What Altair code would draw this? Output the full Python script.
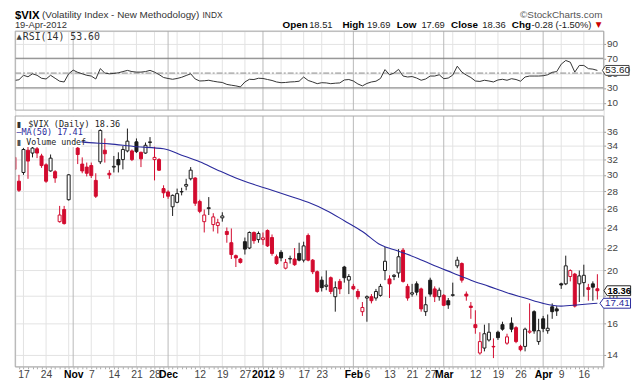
import altair as alt
import numpy as np
import pandas as pd

# ---------------- data ----------------
# sessions from 13-Oct-2011 to 19-Apr-2012; session index 0 = 1-Nov-2011
FIRST_DAY = -13

opens = [32.3, 29.2, 30.3, 33.3, 32.9, 33.5, 32.5, 31.3, 30.5, 30.4, 24.6, 25.9, 27.0,
         34.0, 33.6, 31.4, 31.0, 31.2, 29.3, 31.7, 33.3, 30.2, 31.0, 32.0, 32.0, 33.2, 33.2, 34.5, 33.0, 32.9, 34.4, 32.0, 32.0, 28.3,
         27.9, 26.2, 26.7, 27.9, 28.6, 29.5, 29.6, 26.8, 24.6, 26.0, 24.3, 24.2, 25.0, 23.6, 22.5, 21.3, 21.0, 22.6, 22.0, 23.5, 22.8,
         22.8, 23.7, 23.0, 21.2, 21.6, 20.2, 21.0, 21.0, 21.5, 20.9, 23.2, 20.9, 19.9, 19.2, 18.7, 19.4, 17.9, 19.1, 20.3, 19.2,
         18.7, 18.3, 16.8, 17.8, 17.9, 17.8, 18.0, 20.0, 19.3, 19.5, 19.8, 21.8, 18.7, 18.1, 18.9, 18.5, 16.8, 19.2, 18.5, 17.9,
         18.0, 17.6, 18.0, 20.4, 20.6, 18.1, 17.2, 15.9, 14.1, 14.4, 14.9, 14.5, 15.4, 15.9, 14.7, 16.0, 15.7, 14.5, 14.5, 15.4, 16.8, 14.8,
         16.3, 15.5, 17.15, 17.0, 18.9, 18.9, 19.5, 19.7, 18.9, 19.0, 18.6, 18.9, 18.51]
highs = [32.6, 30.0, 33.6, 34.0, 34.0, 34.0, 32.8, 31.5, 32.7, 30.6, 26.3, 26.3, 30.1,
         36.5, 34.0, 32.3, 31.6, 31.6, 30.2, 36.6, 35.0, 30.6, 32.5, 33.0, 33.9, 36.5, 33.4, 35.0, 33.1, 34.4, 35.2, 33.8, 32.2, 28.7,
         28.1, 27.6, 28.3, 28.4, 29.5, 31.0, 29.7, 27.0, 25.9, 27.3, 25.5, 24.9, 25.6, 24.0, 23.9, 21.4, 21.1, 23.0, 23.6, 23.6, 23.6,
         23.5, 23.8, 23.3, 21.4, 21.8, 21.0, 21.3, 22.0, 22.5, 22.6, 23.4, 21.0, 20.0, 19.5, 20.0, 19.5, 19.1, 19.3, 20.4, 19.7,
         18.9, 18.5, 17.5, 18.0, 18.1, 18.5, 18.9, 22.1, 19.6, 19.7, 21.9, 22.0, 18.9, 18.9, 19.1, 18.6, 17.9, 19.4, 18.7, 18.6,
         18.1, 17.8, 19.0, 21.2, 20.7, 18.3, 17.5, 16.9, 15.4, 15.9, 16.0, 15.0, 15.5, 16.1, 15.3, 16.4, 15.8, 14.6, 15.7, 17.4, 16.9, 16.3,
         16.5, 16.6, 17.4, 17.2, 19.0, 21.3, 20.1, 19.8, 20.0, 20.5, 18.9, 19.1, 19.69]
lows = [30.4, 27.9, 30.0, 29.5, 32.3, 32.2, 30.9, 29.0, 30.4, 29.0, 24.5, 24.3, 26.9,
        33.8, 31.4, 30.2, 29.8, 29.6, 27.2, 31.4, 31.6, 29.5, 30.3, 30.3, 30.7, 33.0, 31.8, 32.9, 31.0, 32.8, 33.8, 29.3, 30.5, 27.2,
        27.1, 25.2, 26.6, 27.5, 28.1, 29.3, 26.3, 25.5, 23.5, 25.3, 23.6, 23.4, 24.6, 22.5, 21.0, 20.3, 20.6, 21.4, 21.9, 22.4, 22.5,
        22.3, 22.1, 21.3, 20.5, 20.8, 20.1, 20.6, 20.4, 20.8, 20.7, 20.8, 19.7, 18.2, 18.3, 18.4, 18.1, 16.8, 18.1, 19.0, 18.1,
        18.4, 17.7, 16.5, 16.1, 17.4, 17.6, 17.9, 19.2, 17.8, 19.2, 19.4, 19.0, 17.6, 17.9, 18.0, 16.8, 16.5, 17.9, 17.5, 17.6,
        17.2, 17.0, 17.9, 20.2, 19.0, 17.6, 16.3, 15.3, 14.0, 14.2, 14.8, 13.8, 14.9, 15.5, 14.6, 15.4, 14.7, 14.2, 14.2, 15.3, 15.3, 14.6,
        15.4, 15.3, 16.3, 16.5, 18.5, 18.8, 19.1, 17.1, 17.5, 17.9, 17.6, 17.6, 17.69]
closes = [30.7, 28.1, 33.4, 31.8, 33.6, 32.9, 31.2, 29.2, 32.2, 29.6, 25.3, 24.4, 30.0,
          34.8, 32.7, 30.5, 30.2, 29.9, 27.4, 36.2, 32.8, 30.0, 31.1, 31.3, 33.4, 34.6, 32.0, 33.1, 32.1, 34.0, 34.5, 32.3, 30.6, 27.8,
          27.4, 27.5, 27.7, 27.95, 28.8, 30.6, 26.6, 25.7, 25.3, 26.1, 25.1, 24.5, 25.2, 23.3, 21.4, 21.1, 20.7, 21.9, 23.5, 22.7, 23.4,
          22.97, 22.2, 21.5, 20.6, 21.1, 20.7, 21.05, 20.5, 20.9, 22.2, 20.9, 19.9, 18.3, 18.6, 18.8, 18.3, 18.6, 18.5, 19.4, 19.5,
          18.5, 17.9, 17.1, 17.9, 17.6, 18.3, 18.7, 20.8, 18.9, 19.6, 21.2, 19.1, 17.8, 18.2, 18.25, 17.0, 17.3, 18.1, 17.9, 18.4,
          17.26, 17.29, 18.05, 20.9, 19.2, 17.95, 17.1, 15.7, 14.8, 15.3, 15.4, 14.47, 15.05, 15.6, 15.1, 15.6, 14.8, 14.3, 15.6, 15.47, 15.48, 15.5,
          15.64, 15.66, 16.8, 16.85, 18.81, 20.4, 20.0, 17.2, 19.55, 19.6, 18.46, 18.64, 18.36]
rsi14 = [40, 41, 47, 45, 49, 47, 43, 42, 47, 43, 39, 38, 49,
         54, 51, 49, 47, 46, 42, 56, 50, 49, 49.5, 50.4, 52, 53.6, 52, 51.3, 51.3, 52, 53.6, 51.3, 48, 44,
         42.7, 41.6, 42.7, 44.3, 46.7, 49, 42, 39.3, 39.6, 40.3, 39, 38, 37.3, 34.7, 33.6, 32.7, 31.3, 38, 41.6, 41.3, 43,
         42.7, 41.3, 40, 38, 37, 37.3, 38, 38.3, 39, 44.7, 40, 38, 35.7, 37, 36.7, 35.7, 36.3, 36.7, 40.7, 41.3,
         39.3, 35.3, 32.7, 36, 38, 39, 42.7, 54.7, 47.7, 50, 55, 46, 44.7, 45.3, 43.3, 40.3, 42, 46, 46, 47.7,
         42.4, 43.3, 47.3, 59.3, 51.3, 47.3, 44, 39.3, 38.7, 40.3, 39.3, 38, 40.7, 41.6, 40.3, 42.4, 41.3, 39, 44.7, 46, 46, 46,
         46.4, 47.7, 51, 52, 62, 67, 64.7, 51.3, 60.3, 60.3, 56, 55.3, 53.6]

# MA(50) at these sessions
ma_days = [1, 2, 8, 14, 20, 24, 28, 32, 36, 40, 44, 48, 52, 56, 60, 64, 68, 72, 76, 80, 84, 88, 92, 96, 100, 104, 108, 112, 116]
ma50 = [34.6, 34.5, 34.2, 33.8, 33.5, 32.6, 31.7, 30.6, 29.6, 28.8, 28.1, 27.4, 26.7, 25.8, 24.7, 23.6, 22.3, 21.7, 21.1,
        20.4, 19.8, 19.2, 18.7, 18.2, 17.8, 17.4, 17.2, 17.3, 17.41]

tick_days = [-11, -6, 0, 4, 9, 14, 18, 21, 28, 33, 38, 42, 46, 51, 55, 62, 65, 70, 75, 79, 82, 89, 94, 99, 104, 108, 113]
tick_labels = ["17", "24", "Nov", "7", "14", "21", "28", "Dec", "12", "19", "27", "2012", "9", "17", "23",
               "Feb", "6", "13", "21", "27", "Mar", "12", "19", "26", "Apr", "9", "16"]
month_days = [0, 21, 42, 62, 82, 104]
week_days = [-11, -6, -1, 4, 9, 14, 18, 23, 28, 33, 38, 46, 51, 55, 60, 65, 70, 75, 79, 84, 89, 94, 99, 108, 113]
price_ticks = [14, 16, 18, 20, 22, 24, 26, 28, 30, 32, 34, 36]
rsi_ticks = [10, 30, 50, 70, 90]

# ---------------- layout ----------------
W, H = 596, 340
RSI_Y0, RSI_Y1 = 0, 80
PX_Y0, PX_Y1 = 86, 340
RED, BLACK, NAVY = "#d20a2e", "#1a1a1a", "#2a2a9c"

XS = alt.Scale(domain=[-12.83, 117.39], nice=False, zero=False)
PS = alt.Scale(type="log", domain=[13.30, 38.49], range=[PX_Y1, PX_Y0], nice=False)
RS = alt.Scale(domain=[0, 106.67], range=[RSI_Y1, RSI_Y0], nice=False, zero=False)

month_test = f"indexof({month_days}, datum.value) >= 0"
XAX = alt.Axis(
    values=list(range(-12, 118)),
    labelExpr=f"indexof({tick_days}, datum.value) >= 0 ? {tick_labels}[indexof({tick_days}, datum.value)] : ''",
    labelFontWeight={"condition": {"test": month_test, "value": "bold"}, "value": "normal"},
    labelColor={"condition": {"test": month_test, "value": "#000000"}, "value": "#444444"},
    labelFont="Liberation Sans", labelFontSize=10.5, labelOverlap=False, labelBound=False,
    labelFlush=False, labelPadding=1, tickSize=2, tickColor="#aaaaaa", domain=False,
    grid=False, title=None, zindex=0,
)
AXIS_STYLE = dict(orient="right", grid=True, gridColor="#e3e3e3", tickSize=2, tickColor="#999999",
                  labelPadding=1, domain=False, title=None, labelFont="Liberation Sans",
                  labelFontSize=10, labelColor="#444444", labelOverlap=False, labelBound=False, zindex=0)
PAX = alt.Axis(values=price_ticks, **AXIS_STYLE)
RAX = alt.Axis(values=rsi_ticks, **AXIS_STYLE)


def X(field):
    return alt.X(f"{field}:Q", scale=XS, axis=XAX)


# ---------------- frames ----------------
df = pd.DataFrame({"o": opens, "h": highs, "l": lows, "c": closes})
df["d"] = np.arange(FIRST_DAY, FIRST_DAY + len(df))
prev = df["c"].shift(1).fillna(df["o"])
df["col"] = np.where(df["c"] < prev, RED, BLACK)
df["fill"] = np.where(df["c"] > df["o"], "white", df["col"])
df["blo"] = df[["o", "c"]].min(axis=1)
df["bhi"] = df[["o", "c"]].max(axis=1)
df["x0"] = df["d"] - 0.33
df["x1"] = df["d"] + 0.33

rsi_df = pd.DataFrame({"d": np.arange(FIRST_DAY, FIRST_DAY + len(rsi14)), "v": rsi14})
ma_df = pd.DataFrame({"d": ma_days, "v": ma50})
grid_df = pd.DataFrame({"d": week_days + month_days,
                        "gc": ["#e3e3e3"] * len(week_days) + ["#b8b8b8"] * len(month_days)})
one = pd.DataFrame({"a": [0]})

layers = []
# vertical grid in both panels
for y0, y1 in [(RSI_Y0, RSI_Y1), (PX_Y0, PX_Y1)]:
    layers.append(alt.Chart(grid_df).mark_rule(strokeWidth=1).encode(
        x=X("d"), y=alt.value(y0), y2=alt.value(y1), color=alt.Color("gc:N", scale=None)))

# RSI reference lines
layers.append(alt.Chart(pd.DataFrame({"v": [70, 30]})).mark_rule(color="#777777", strokeWidth=1).encode(
    y=alt.Y("v:Q", scale=RS, axis=None), x=alt.value(0), x2=alt.value(W)))
layers.append(alt.Chart(pd.DataFrame({"v": [50]})).mark_rule(color="#888888", strokeWidth=1, strokeDash=[6, 2, 2, 2]).encode(
    y=alt.Y("v:Q", scale=RS, axis=None), x=alt.value(0), x2=alt.value(W)))
# RSI line (carries the RSI axis)
layers.append(alt.Chart(rsi_df).mark_line(color="#333333", strokeWidth=1, clip=True).encode(
    x=X("d"), y=alt.Y("v:Q", scale=RS, axis=RAX)))

# candles: wicks (carry the price axis) and bodies
layers.append(alt.Chart(df).mark_rule(strokeWidth=1, clip=True).encode(
    x=X("d"), y=alt.Y("l:Q", scale=PS, axis=PAX), y2="h:Q", color=alt.Color("col:N", scale=None)))
layers.append(alt.Chart(df).mark_rect(strokeWidth=1, clip=True).encode(
    x=X("x0"), x2="x1:Q", y=alt.Y("blo:Q", scale=PS, axis=None), y2="bhi:Q",
    fill=alt.Fill("fill:N", scale=None), stroke=alt.Stroke("col:N", scale=None)))
# MA(50)
layers.append(alt.Chart(ma_df).mark_line(color=NAVY, strokeWidth=1.1, interpolate="monotone", clip=True).encode(
    x=X("d"), y=alt.Y("v:Q", scale=PS, axis=None)))

# legend backgrounds
for x1, y0, y1 in [(67, 86.5, 117.5), (108, 86.5, 99.5)]:
    layers.append(alt.Chart(one).mark_rect(fill="white").encode(
        x=alt.value(0.5), x2=alt.value(x1), y=alt.value(y0), y2=alt.value(y1)))

# panel borders
for y0, y1 in [(RSI_Y0, RSI_Y1), (PX_Y0, PX_Y1)]:
    layers.append(alt.Chart(one).mark_rect(fillOpacity=0, stroke="#a8a8a8", strokeWidth=1).encode(
        x=alt.value(0), x2=alt.value(W), y=alt.value(y0), y2=alt.value(y1)))


def label(text, x, y, size=10, weight="normal", color="#222222", font="Liberation Sans", align="left"):
    return alt.Chart(pd.DataFrame({"t": [text]})).mark_text(
        align=align, baseline="alphabetic", fontSize=size, fontWeight=weight, color=color, font=font
    ).encode(x=alt.value(x), y=alt.value(y), text="t:N")


chg = closes[-1] - closes[-2]
pct = chg / closes[-2] * 100
HY = -3.5
layers += [
    label("$VIX", -0.3, -12.5, size=11.5, weight="bold", color="#000000"),
    label("(Volatility Index - New Methodology)", 27.2, -12.8, size=10, color="#333333"),
    label("INDX", 189.7, -12.8, size=8.5, color="#333333"),
    label("19-Apr-2012", -0.3, HY, size=9.5, color="#333333"),
    label("\u00a9StockCharts.com", 594.7, -13.5, size=10, color="#555555", align="right"),
    label("Open", 270.7, HY, size=10, weight="bold", color="#000000"),
    label(f"{opens[-1]:.2f}", 297.7, HY, size=9.5),
    label("High", 331.4, HY, size=10, weight="bold", color="#000000"),
    label(f"{highs[-1]:.2f}", 356.4, HY, size=9.5),
    label("Low", 386.4, HY, size=10, weight="bold", color="#000000"),
    label(f"{lows[-1]:.2f}", 411.4, HY, size=9.5),
    label("Close", 441.4, HY, size=10, weight="bold", color="#000000"),
    label(f"{closes[-1]:.2f}", 473.0, HY, size=9.5),
    label("Chg", 503.0, HY, size=10, weight="bold", color="#000000"),
    label(f"{chg:.2f} ({pct:.2f}%)", 523.0, HY, size=9.5),
    label("\u25bc", 588.0, HY - 0.5, size=7.5, color="#cc0000", font="DejaVu Sans"),
    # RSI panel label
    label("\u25b2", 1.2, 8.0, size=7, color="#444444", font="DejaVu Sans"),
    label(f"RSI(14) {rsi14[-1]:.2f}", 7.7, 8.5, size=10, color="#333333", font="DejaVu Sans Mono"),
    # price panel legend
    label("\u25ae", 1.5, 97.0, size=8, color="#333333", font="DejaVu Sans"),
    label(f"$VIX (Daily) {closes[-1]:.2f}", 13.2, 97.5, size=8.6, color="#222222", font="DejaVu Sans Mono"),
    label(f"\u2014MA(50) {ma50[-1]:.2f}", 1.2, 105.5, size=8.6, color=NAVY, font="DejaVu Sans Mono"),
    label("\u25ae", 1.5, 115.0, size=8, color="#555555", font="DejaVu Sans"),
    label("Volume undef", 11.2, 115.5, size=8.4, color="#222222", font="DejaVu Sans Mono"),
]


def tag(value, scale, xc, width, edge, tcolor, weight="normal", fsize=10):
    h = 10.0 / width
    path = f"M -1 0 L -0.76 {-h:.3f} L 1 {-h:.3f} L 1 {h:.3f} L -0.76 {h:.3f} Z"
    src = pd.DataFrame({"v": [value]})
    box = alt.Chart(src).mark_point(shape=path, size=width ** 2, filled=True, fill="white",
                                    stroke=edge, strokeWidth=1, opacity=1).encode(
        x=alt.value(xc), y=alt.Y("v:Q", scale=scale, axis=None))
    txt = alt.Chart(src).mark_text(align="center", baseline="middle", fontSize=fsize, color=tcolor,
                                   fontWeight=weight, font="Liberation Sans").encode(
        x=alt.value(xc + width * 0.07), y=alt.Y("v:Q", scale=scale, axis=None),
        text=alt.Text("v:Q", format=".2f"))
    return [box, txt]


layers += tag(rsi14[-1], RS, 608.2, 27, "#444444", "#222222")
layers += tag(closes[-1], PS, 609.8, 27, "#222222", "#000000", "bold", 9.5)
layers += tag(ma50[-1], PS, 607.7, 31, NAVY, NAVY)

chart = alt.layer(*layers).properties(
    width=W, height=H,
    padding={"left": 7.3, "top": 21, "right": 28.7, "bottom": 14},
    autosize=alt.AutoSizeParams(type="none"),
).resolve_scale(y="independent").configure_view(stroke=None).configure(background="white")

chart.save("out.html", embed_options={"renderer": "svg", "actions": False})
